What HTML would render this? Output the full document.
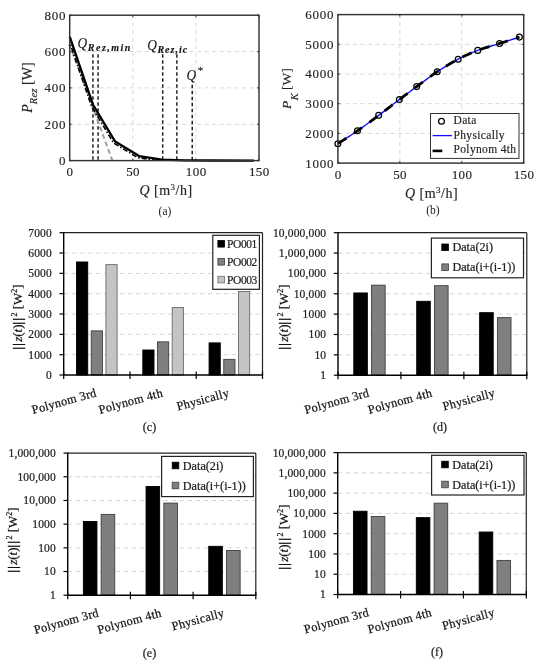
<!DOCTYPE html>
<html><head><meta charset="utf-8"><style>
html,body{margin:0;padding:0;background:#fff;}
svg{display:block;font-family:"Liberation Serif", "DejaVu Serif", serif;}
</style></head><body>
<svg width="550" height="668" viewBox="0 0 550 668">
<defs><clipPath id="clipa"><rect x="69.7" y="15.2" width="189.3" height="145.4"/></clipPath></defs>
<rect width="550" height="668" fill="#fff"/>
<line x1="132.80" y1="15.20" x2="132.80" y2="160.60" stroke="#d8d8d8" stroke-width="1" stroke-dasharray="4,3.5" />
<line x1="195.90" y1="15.20" x2="195.90" y2="160.60" stroke="#d8d8d8" stroke-width="1" stroke-dasharray="4,3.5" />
<line x1="69.70" y1="124.25" x2="259.00" y2="124.25" stroke="#d8d8d8" stroke-width="1" stroke-dasharray="4,3.5" />
<line x1="69.70" y1="87.90" x2="259.00" y2="87.90" stroke="#d8d8d8" stroke-width="1" stroke-dasharray="4,3.5" />
<line x1="69.70" y1="51.55" x2="259.00" y2="51.55" stroke="#d8d8d8" stroke-width="1" stroke-dasharray="4,3.5" />
<line x1="92.92" y1="54.30" x2="92.92" y2="160.60" stroke="#222" stroke-width="1.5" stroke-dasharray="3.5,2.5" />
<line x1="98.09" y1="54.30" x2="98.09" y2="160.60" stroke="#222" stroke-width="1.5" stroke-dasharray="3.5,2.5" />
<line x1="162.71" y1="54.20" x2="162.71" y2="160.60" stroke="#222" stroke-width="1.5" stroke-dasharray="3.5,2.5" />
<line x1="176.84" y1="54.20" x2="176.84" y2="160.60" stroke="#222" stroke-width="1.5" stroke-dasharray="3.5,2.5" />
<line x1="192.24" y1="84.70" x2="192.24" y2="160.60" stroke="#222" stroke-width="1.5" stroke-dasharray="3.5,2.5" />
<polyline points="69.10,44.10 81.72,76.63 92.45,106.44 112.39,160.60" fill="none" stroke="#a0a0a0" stroke-width="2" stroke-dasharray="5,3" stroke-linejoin="round" />
<polyline points="68.20,38.15 91.55,106.30 113.63,143.02 137.61,157.56 160.33,161.19 183.04,161.83 207.02,162.01 252.45,162.10" fill="none" stroke="#000" stroke-width="1.6" stroke-dasharray="5,2,1.5,2" stroke-linejoin="round" clip-path="url(#clipa)"/>
<polyline points="69.70,36.65 93.05,104.80 115.13,141.52 139.11,156.06 161.83,159.69 184.54,160.33 208.52,160.51 253.95,160.60" fill="none" stroke="#000" stroke-width="2.3" stroke-linejoin="round" />
<rect x="69.7" y="15.2" width="189.30" height="145.40" fill="none" stroke="#333" stroke-width="1.45"/>
<line x1="69.70" y1="160.60" x2="69.70" y2="158.60" stroke="#333" stroke-width="1" />
<line x1="69.70" y1="15.20" x2="69.70" y2="17.20" stroke="#333" stroke-width="1" />
<line x1="132.80" y1="160.60" x2="132.80" y2="158.60" stroke="#333" stroke-width="1" />
<line x1="132.80" y1="15.20" x2="132.80" y2="17.20" stroke="#333" stroke-width="1" />
<line x1="195.90" y1="160.60" x2="195.90" y2="158.60" stroke="#333" stroke-width="1" />
<line x1="195.90" y1="15.20" x2="195.90" y2="17.20" stroke="#333" stroke-width="1" />
<line x1="259.00" y1="160.60" x2="259.00" y2="158.60" stroke="#333" stroke-width="1" />
<line x1="259.00" y1="15.20" x2="259.00" y2="17.20" stroke="#333" stroke-width="1" />
<line x1="69.70" y1="160.60" x2="71.70" y2="160.60" stroke="#333" stroke-width="1" />
<line x1="259.00" y1="160.60" x2="257.00" y2="160.60" stroke="#333" stroke-width="1" />
<line x1="69.70" y1="124.25" x2="71.70" y2="124.25" stroke="#333" stroke-width="1" />
<line x1="259.00" y1="124.25" x2="257.00" y2="124.25" stroke="#333" stroke-width="1" />
<line x1="69.70" y1="87.90" x2="71.70" y2="87.90" stroke="#333" stroke-width="1" />
<line x1="259.00" y1="87.90" x2="257.00" y2="87.90" stroke="#333" stroke-width="1" />
<line x1="69.70" y1="51.55" x2="71.70" y2="51.55" stroke="#333" stroke-width="1" />
<line x1="259.00" y1="51.55" x2="257.00" y2="51.55" stroke="#333" stroke-width="1" />
<line x1="69.70" y1="15.20" x2="71.70" y2="15.20" stroke="#333" stroke-width="1" />
<line x1="259.00" y1="15.20" x2="257.00" y2="15.20" stroke="#333" stroke-width="1" />
<text x="66.30" y="165.00" font-size="13" text-anchor="end" fill="#222" stroke="#2a2a2a" stroke-width="0.15" letter-spacing="0.75">0</text>
<text x="66.30" y="128.65" font-size="13" text-anchor="end" fill="#222" stroke="#2a2a2a" stroke-width="0.15" letter-spacing="0.75">200</text>
<text x="66.30" y="92.30" font-size="13" text-anchor="end" fill="#222" stroke="#2a2a2a" stroke-width="0.15" letter-spacing="0.75">400</text>
<text x="66.30" y="55.95" font-size="13" text-anchor="end" fill="#222" stroke="#2a2a2a" stroke-width="0.15" letter-spacing="0.75">600</text>
<text x="66.30" y="19.60" font-size="13" text-anchor="end" fill="#222" stroke="#2a2a2a" stroke-width="0.15" letter-spacing="0.75">800</text>
<text x="70.00" y="175.90" font-size="13" text-anchor="middle" fill="#222" stroke="#2a2a2a" stroke-width="0.15" letter-spacing="0.4">0</text>
<text x="133.10" y="175.90" font-size="13" text-anchor="middle" fill="#222" stroke="#2a2a2a" stroke-width="0.15" letter-spacing="0.4">50</text>
<text x="196.20" y="175.90" font-size="13" text-anchor="middle" fill="#222" stroke="#2a2a2a" stroke-width="0.15" letter-spacing="0.4">100</text>
<text x="259.30" y="175.90" font-size="13" text-anchor="middle" fill="#222" stroke="#2a2a2a" stroke-width="0.15" letter-spacing="0.4">150</text>
<text x="166.00" y="195.40" font-size="14" text-anchor="middle" fill="#222" stroke="#2a2a2a" stroke-width="0.15" letter-spacing="0.5"><tspan font-style="italic">Q</tspan> [m<tspan font-size="9" dy="-5">3</tspan><tspan dy="5">/h]</tspan></text>
<text x="165.00" y="214.50" font-size="11.5" text-anchor="middle" fill="#222" >(a)</text>
<text transform="translate(32,87.5) rotate(-90)" font-size="14" text-anchor="middle" fill="#222" stroke="#2a2a2a" stroke-width="0.15" letter-spacing="0.1"><tspan font-style="italic">P</tspan><tspan font-style="italic" font-size="10.5" dy="5.2">Rez</tspan><tspan dy="-5.2"> [W]</tspan></text>
<text transform="translate(77.6,48.0) scale(0.86,1)" font-size="15.5" fill="#111" font-style="italic" stroke="#2a2a2a" stroke-width="0.15">Q</text>
<text x="87.8" y="51.0" font-size="10" fill="#111" font-style="italic" font-weight="bold" letter-spacing="1.5" stroke="#2a2a2a" stroke-width="0.15">Rez,min</text>
<text transform="translate(147.2,49.6) scale(0.86,1)" font-size="15.5" fill="#111" font-style="italic" stroke="#2a2a2a" stroke-width="0.15">Q</text>
<text x="157.4" y="52.6" font-size="10" fill="#111" font-style="italic" font-weight="bold" letter-spacing="1.0" stroke="#2a2a2a" stroke-width="0.15">Rez,ic</text>
<text transform="translate(186.6,80.2) scale(0.86,1)" font-size="15.5" fill="#111" font-style="italic" stroke="#2a2a2a" stroke-width="0.15">Q</text>
<text x="197.8" y="73.5" font-size="11" fill="#111" stroke="#2a2a2a" stroke-width="0.15">*</text>
<line x1="399.83" y1="14.60" x2="399.83" y2="163.10" stroke="#d8d8d8" stroke-width="1" stroke-dasharray="4,3.5" />
<line x1="461.77" y1="14.60" x2="461.77" y2="163.10" stroke="#d8d8d8" stroke-width="1" stroke-dasharray="4,3.5" />
<line x1="337.90" y1="133.40" x2="523.70" y2="133.40" stroke="#d8d8d8" stroke-width="1" stroke-dasharray="4,3.5" />
<line x1="337.90" y1="103.70" x2="523.70" y2="103.70" stroke="#d8d8d8" stroke-width="1" stroke-dasharray="4,3.5" />
<line x1="337.90" y1="74.00" x2="523.70" y2="74.00" stroke="#d8d8d8" stroke-width="1" stroke-dasharray="4,3.5" />
<line x1="337.90" y1="44.30" x2="523.70" y2="44.30" stroke="#d8d8d8" stroke-width="1" stroke-dasharray="4,3.5" />
<polyline points="337.90,143.65 339.40,142.67 341.38,141.40 343.73,139.88 346.36,138.18 349.15,136.36 352.01,134.48 354.81,132.60 357.47,130.79 360.04,128.98 362.66,127.12 365.32,125.21 367.99,123.26 370.67,121.30 373.35,119.31 376.02,117.34 378.65,115.37 381.28,113.39 383.94,111.38 386.59,109.34 389.23,107.30 391.85,105.28 394.41,103.30 396.92,101.38 399.34,99.54 401.64,97.80 403.83,96.15 405.94,94.57 408.02,93.02 410.09,91.49 412.20,89.92 414.38,88.31 416.68,86.62 419.09,84.84 421.58,82.98 424.14,81.07 426.74,79.14 429.36,77.21 432.00,75.32 434.63,73.47 437.24,71.71 439.85,70.01 442.48,68.34 445.12,66.70 447.77,65.10 450.41,63.54 453.03,62.05 455.62,60.61 458.17,59.24 460.67,57.95 463.11,56.73 465.52,55.57 467.91,54.46 470.30,53.40 472.73,52.38 475.20,51.38 477.75,50.39 480.38,49.43 483.09,48.52 485.84,47.64 488.63,46.79 491.42,45.96 494.18,45.14 496.90,44.32 499.55,43.50 502.25,42.63 505.10,41.72 507.99,40.79 510.82,39.87 513.47,39.02 515.85,38.25 517.85,37.60 519.36,37.11" fill="none" stroke="#1010ff" stroke-width="1.4" stroke-linejoin="round" />
<polyline points="337.90,143.65 339.40,142.67 341.38,141.40 343.73,139.88 346.36,138.18 349.15,136.36 352.01,134.48 354.81,132.60 357.47,130.79 360.04,128.98 362.66,127.12 365.32,125.21 367.99,123.26 370.67,121.30 373.35,119.31 376.02,117.34 378.65,115.37 381.28,113.39 383.94,111.38 386.59,109.34 389.23,107.30 391.85,105.28 394.41,103.30 396.92,101.38 399.34,99.54 401.64,97.80 403.83,96.15 405.94,94.57 408.02,93.02 410.09,91.49 412.20,89.92 414.38,88.31 416.68,86.62 419.09,84.84 421.58,82.98 424.14,81.07 426.74,79.14 429.36,77.21 432.00,75.32 434.63,73.47 437.24,71.71 439.85,70.01 442.48,68.34 445.12,66.70 447.77,65.10 450.41,63.54 453.03,62.05 455.62,60.61 458.17,59.24 460.67,57.95 463.11,56.73 465.52,55.57 467.91,54.46 470.30,53.40 472.73,52.38 475.20,51.38 477.75,50.39 480.38,49.43 483.09,48.52 485.84,47.64 488.63,46.79 491.42,45.96 494.18,45.14 496.90,44.32 499.55,43.50 502.25,42.63 505.10,41.72 507.99,40.79 510.82,39.87 513.47,39.02 515.85,38.25 517.85,37.60 519.36,37.11" fill="none" stroke="#000" stroke-width="2.8" stroke-dasharray="10,9" stroke-linejoin="round" />
<circle cx="337.90" cy="143.65" r="2.9" fill="none" stroke="#000" stroke-width="1.25"/>
<circle cx="357.47" cy="130.79" r="2.9" fill="none" stroke="#000" stroke-width="1.25"/>
<circle cx="378.65" cy="115.37" r="2.9" fill="none" stroke="#000" stroke-width="1.25"/>
<circle cx="399.34" cy="99.54" r="2.9" fill="none" stroke="#000" stroke-width="1.25"/>
<circle cx="416.68" cy="86.62" r="2.9" fill="none" stroke="#000" stroke-width="1.25"/>
<circle cx="437.24" cy="71.71" r="2.9" fill="none" stroke="#000" stroke-width="1.25"/>
<circle cx="458.17" cy="59.24" r="2.9" fill="none" stroke="#000" stroke-width="1.25"/>
<circle cx="477.75" cy="50.39" r="2.9" fill="none" stroke="#000" stroke-width="1.25"/>
<circle cx="499.55" cy="43.50" r="2.9" fill="none" stroke="#000" stroke-width="1.25"/>
<circle cx="519.36" cy="37.11" r="2.9" fill="none" stroke="#000" stroke-width="1.25"/>
<rect x="337.9" y="14.6" width="185.80" height="148.50" fill="none" stroke="#333" stroke-width="1.45"/>
<line x1="337.90" y1="163.10" x2="337.90" y2="161.10" stroke="#333" stroke-width="1" />
<line x1="337.90" y1="14.60" x2="337.90" y2="16.60" stroke="#333" stroke-width="1" />
<line x1="399.83" y1="163.10" x2="399.83" y2="161.10" stroke="#333" stroke-width="1" />
<line x1="399.83" y1="14.60" x2="399.83" y2="16.60" stroke="#333" stroke-width="1" />
<line x1="461.77" y1="163.10" x2="461.77" y2="161.10" stroke="#333" stroke-width="1" />
<line x1="461.77" y1="14.60" x2="461.77" y2="16.60" stroke="#333" stroke-width="1" />
<line x1="523.70" y1="163.10" x2="523.70" y2="161.10" stroke="#333" stroke-width="1" />
<line x1="523.70" y1="14.60" x2="523.70" y2="16.60" stroke="#333" stroke-width="1" />
<line x1="337.90" y1="163.10" x2="339.90" y2="163.10" stroke="#333" stroke-width="1" />
<line x1="523.70" y1="163.10" x2="521.70" y2="163.10" stroke="#333" stroke-width="1" />
<line x1="337.90" y1="133.40" x2="339.90" y2="133.40" stroke="#333" stroke-width="1" />
<line x1="523.70" y1="133.40" x2="521.70" y2="133.40" stroke="#333" stroke-width="1" />
<line x1="337.90" y1="103.70" x2="339.90" y2="103.70" stroke="#333" stroke-width="1" />
<line x1="523.70" y1="103.70" x2="521.70" y2="103.70" stroke="#333" stroke-width="1" />
<line x1="337.90" y1="74.00" x2="339.90" y2="74.00" stroke="#333" stroke-width="1" />
<line x1="523.70" y1="74.00" x2="521.70" y2="74.00" stroke="#333" stroke-width="1" />
<line x1="337.90" y1="44.30" x2="339.90" y2="44.30" stroke="#333" stroke-width="1" />
<line x1="523.70" y1="44.30" x2="521.70" y2="44.30" stroke="#333" stroke-width="1" />
<line x1="337.90" y1="14.60" x2="339.90" y2="14.60" stroke="#333" stroke-width="1" />
<line x1="523.70" y1="14.60" x2="521.70" y2="14.60" stroke="#333" stroke-width="1" />
<text x="334.30" y="167.50" font-size="13" text-anchor="end" fill="#222" stroke="#2a2a2a" stroke-width="0.15" letter-spacing="0.75">1000</text>
<text x="334.30" y="137.80" font-size="13" text-anchor="end" fill="#222" stroke="#2a2a2a" stroke-width="0.15" letter-spacing="0.75">2000</text>
<text x="334.30" y="108.10" font-size="13" text-anchor="end" fill="#222" stroke="#2a2a2a" stroke-width="0.15" letter-spacing="0.75">3000</text>
<text x="334.30" y="78.40" font-size="13" text-anchor="end" fill="#222" stroke="#2a2a2a" stroke-width="0.15" letter-spacing="0.75">4000</text>
<text x="334.30" y="48.70" font-size="13" text-anchor="end" fill="#222" stroke="#2a2a2a" stroke-width="0.15" letter-spacing="0.75">5000</text>
<text x="334.30" y="19.00" font-size="13" text-anchor="end" fill="#222" stroke="#2a2a2a" stroke-width="0.15" letter-spacing="0.75">6000</text>
<text x="338.20" y="179.40" font-size="13" text-anchor="middle" fill="#222" stroke="#2a2a2a" stroke-width="0.15" letter-spacing="0.4">0</text>
<text x="400.13" y="179.40" font-size="13" text-anchor="middle" fill="#222" stroke="#2a2a2a" stroke-width="0.15" letter-spacing="0.4">50</text>
<text x="462.07" y="179.40" font-size="13" text-anchor="middle" fill="#222" stroke="#2a2a2a" stroke-width="0.15" letter-spacing="0.4">100</text>
<text x="524.00" y="179.40" font-size="13" text-anchor="middle" fill="#222" stroke="#2a2a2a" stroke-width="0.15" letter-spacing="0.4">150</text>
<text x="431.50" y="198.20" font-size="14" text-anchor="middle" fill="#222" stroke="#2a2a2a" stroke-width="0.15" letter-spacing="0.5"><tspan font-style="italic">Q</tspan> [m<tspan font-size="9" dy="-5">3</tspan><tspan dy="5">/h]</tspan></text>
<text x="433.00" y="213.60" font-size="11.5" text-anchor="middle" fill="#222" >(b)</text>
<text transform="translate(291.2,88.6) rotate(-90)" font-size="13.5" text-anchor="middle" fill="#222" stroke="#2a2a2a" stroke-width="0.15" letter-spacing="0"><tspan font-style="italic">P</tspan><tspan font-style="italic" font-size="10.5" dy="6.5" dx="0.5">K</tspan><tspan dy="-6.5"> [W]</tspan></text>
<rect x="430.50" y="113.50" width="88.50" height="44.90" fill="#fff" stroke="#333" stroke-width="1"/>
<circle cx="441.5" cy="121.3" r="2.9" fill="none" stroke="#000" stroke-width="1.25"/>
<line x1="432.60" y1="135.60" x2="451.90" y2="135.60" stroke="#1010ff" stroke-width="1.3" />
<line x1="432.60" y1="150.90" x2="442.30" y2="150.90" stroke="#000" stroke-width="2.6" />
<text x="453.50" y="124.00" font-size="11.5" text-anchor="start" fill="#222" stroke="#2a2a2a" stroke-width="0.15" letter-spacing="0.35">Data</text>
<text x="453.50" y="138.60" font-size="11.5" text-anchor="start" fill="#222" stroke="#2a2a2a" stroke-width="0.15" letter-spacing="0.35">Physically</text>
<text x="453.50" y="153.20" font-size="11.5" text-anchor="start" fill="#222" stroke="#2a2a2a" stroke-width="0.15" letter-spacing="0.35">Polynom 4th</text>
<line x1="63.70" y1="354.67" x2="262.50" y2="354.67" stroke="#d6d6d6" stroke-width="1" stroke-dasharray="4.5,3.5" />
<line x1="63.70" y1="334.34" x2="262.50" y2="334.34" stroke="#d6d6d6" stroke-width="1" stroke-dasharray="4.5,3.5" />
<line x1="63.70" y1="314.01" x2="262.50" y2="314.01" stroke="#d6d6d6" stroke-width="1" stroke-dasharray="4.5,3.5" />
<line x1="63.70" y1="293.69" x2="262.50" y2="293.69" stroke="#d6d6d6" stroke-width="1" stroke-dasharray="4.5,3.5" />
<line x1="63.70" y1="273.36" x2="262.50" y2="273.36" stroke="#d6d6d6" stroke-width="1" stroke-dasharray="4.5,3.5" />
<line x1="63.70" y1="253.03" x2="262.50" y2="253.03" stroke="#d6d6d6" stroke-width="1" stroke-dasharray="4.5,3.5" />
<rect x="76.53" y="261.97" width="11.20" height="113.03" fill="#000" stroke="#000" stroke-width="0.9"/>
<rect x="91.23" y="330.89" width="11.20" height="44.11" fill="#7f7f7f" stroke="#3f3f3f" stroke-width="0.9"/>
<rect x="105.93" y="264.62" width="11.20" height="110.38" fill="#c4c4c4" stroke="#6a6a6a" stroke-width="0.9"/>
<rect x="142.80" y="350.00" width="11.20" height="25.00" fill="#000" stroke="#000" stroke-width="0.9"/>
<rect x="157.50" y="341.86" width="11.20" height="33.14" fill="#7f7f7f" stroke="#3f3f3f" stroke-width="0.9"/>
<rect x="172.20" y="307.51" width="11.20" height="67.49" fill="#c4c4c4" stroke="#6a6a6a" stroke-width="0.9"/>
<rect x="209.07" y="342.88" width="11.20" height="32.12" fill="#000" stroke="#000" stroke-width="0.9"/>
<rect x="223.77" y="359.35" width="11.20" height="15.65" fill="#7f7f7f" stroke="#3f3f3f" stroke-width="0.9"/>
<rect x="238.47" y="291.45" width="11.20" height="83.55" fill="#c4c4c4" stroke="#6a6a6a" stroke-width="0.9"/>
<line x1="63.70" y1="232.70" x2="262.50" y2="232.70" stroke="#222" stroke-width="1.2" />
<line x1="262.50" y1="232.70" x2="262.50" y2="375.00" stroke="#222" stroke-width="1.2" />
<line x1="63.70" y1="232.10" x2="63.70" y2="375.60" stroke="#000" stroke-width="1.4" />
<line x1="63.10" y1="375.00" x2="263.10" y2="375.00" stroke="#000" stroke-width="1.4" />
<line x1="59.50" y1="375.00" x2="63.70" y2="375.00" stroke="#000" stroke-width="1.2" />
<text x="51.90" y="378.90" font-size="11.5" text-anchor="end" fill="#222" fill="#111" stroke="#111" stroke-width="0.2" letter-spacing="0.15">0</text>
<line x1="59.50" y1="354.67" x2="63.70" y2="354.67" stroke="#000" stroke-width="1.2" />
<text x="51.90" y="358.57" font-size="11.5" text-anchor="end" fill="#222" fill="#111" stroke="#111" stroke-width="0.2" letter-spacing="0.15">1000</text>
<line x1="59.50" y1="334.34" x2="63.70" y2="334.34" stroke="#000" stroke-width="1.2" />
<text x="51.90" y="338.24" font-size="11.5" text-anchor="end" fill="#222" fill="#111" stroke="#111" stroke-width="0.2" letter-spacing="0.15">2000</text>
<line x1="59.50" y1="314.01" x2="63.70" y2="314.01" stroke="#000" stroke-width="1.2" />
<text x="51.90" y="317.91" font-size="11.5" text-anchor="end" fill="#222" fill="#111" stroke="#111" stroke-width="0.2" letter-spacing="0.15">3000</text>
<line x1="59.50" y1="293.69" x2="63.70" y2="293.69" stroke="#000" stroke-width="1.2" />
<text x="51.90" y="297.59" font-size="11.5" text-anchor="end" fill="#222" fill="#111" stroke="#111" stroke-width="0.2" letter-spacing="0.15">4000</text>
<line x1="59.50" y1="273.36" x2="63.70" y2="273.36" stroke="#000" stroke-width="1.2" />
<text x="51.90" y="277.26" font-size="11.5" text-anchor="end" fill="#222" fill="#111" stroke="#111" stroke-width="0.2" letter-spacing="0.15">5000</text>
<line x1="59.50" y1="253.03" x2="63.70" y2="253.03" stroke="#000" stroke-width="1.2" />
<text x="51.90" y="256.93" font-size="11.5" text-anchor="end" fill="#222" fill="#111" stroke="#111" stroke-width="0.2" letter-spacing="0.15">6000</text>
<line x1="59.50" y1="232.70" x2="63.70" y2="232.70" stroke="#000" stroke-width="1.2" />
<text x="51.90" y="236.60" font-size="11.5" text-anchor="end" fill="#222" fill="#111" stroke="#111" stroke-width="0.2" letter-spacing="0.15">7000</text>
<line x1="63.70" y1="371.50" x2="63.70" y2="379.00" stroke="#000" stroke-width="1.2" />
<line x1="129.97" y1="371.50" x2="129.97" y2="379.00" stroke="#000" stroke-width="1.2" />
<line x1="196.23" y1="371.50" x2="196.23" y2="379.00" stroke="#000" stroke-width="1.2" />
<line x1="262.50" y1="371.50" x2="262.50" y2="379.00" stroke="#000" stroke-width="1.2" />
<text transform="translate(97.63,397.50) rotate(-15.5)" font-size="12.3" dy="-1.3" text-anchor="end" fill="#111" stroke="#111" stroke-width="0.2" letter-spacing="0.25">Polynom 3rd</text>
<text transform="translate(163.90,397.50) rotate(-15.5)" font-size="12.3" dy="-1.3" text-anchor="end" fill="#111" stroke="#111" stroke-width="0.2" letter-spacing="0.25">Polynom 4th</text>
<text transform="translate(230.17,397.50) rotate(-15.5)" font-size="12.3" dy="-1.3" text-anchor="end" fill="#111" stroke="#111" stroke-width="0.2" letter-spacing="0.25">Physically</text>
<rect x="212.80" y="235.30" width="46.60" height="54.00" fill="#fff" stroke="#222" stroke-width="1.2"/>
<rect x="217.90" y="240.50" width="6.60" height="6.60" fill="#000" stroke="#000" stroke-width="0.8"/>
<text x="227.00" y="247.80" font-size="11.5" text-anchor="start" fill="#222" fill="#111" stroke="#111" stroke-width="0.2" letter-spacing="-0.4">PO001</text>
<rect x="217.90" y="258.50" width="6.60" height="6.60" fill="#7f7f7f" stroke="#3f3f3f" stroke-width="0.8"/>
<text x="227.00" y="265.80" font-size="11.5" text-anchor="start" fill="#222" fill="#111" stroke="#111" stroke-width="0.2" letter-spacing="-0.4">PO002</text>
<rect x="217.90" y="276.30" width="6.60" height="6.60" fill="#c4c4c4" stroke="#6a6a6a" stroke-width="0.8"/>
<text x="227.00" y="283.60" font-size="11.5" text-anchor="start" fill="#222" fill="#111" stroke="#111" stroke-width="0.2" letter-spacing="-0.4">PO003</text>
<text transform="translate(22.00,317.00) rotate(-90)" font-size="13" text-anchor="middle" fill="#111" stroke="#111" stroke-width="0.2" letter-spacing="0"><tspan letter-spacing="1.3" stroke-width="0.5">||</tspan><tspan font-style="italic">z</tspan>(<tspan font-style="italic">t</tspan>)<tspan letter-spacing="1.3" stroke-width="0.5">||</tspan><tspan font-size="8" dy="-5">2</tspan><tspan dy="5"> [W</tspan><tspan font-size="8" dy="-5">2</tspan><tspan dy="5">]</tspan></text>
<text x="149.50" y="430.80" font-size="12" text-anchor="middle" fill="#222" fill="#111" stroke="#111" stroke-width="0.2">(c)</text>
<line x1="338.00" y1="354.84" x2="526.80" y2="354.84" stroke="#d6d6d6" stroke-width="1" stroke-dasharray="4.5,3.5" />
<line x1="338.00" y1="334.49" x2="526.80" y2="334.49" stroke="#d6d6d6" stroke-width="1" stroke-dasharray="4.5,3.5" />
<line x1="338.00" y1="314.13" x2="526.80" y2="314.13" stroke="#d6d6d6" stroke-width="1" stroke-dasharray="4.5,3.5" />
<line x1="338.00" y1="293.77" x2="526.80" y2="293.77" stroke="#d6d6d6" stroke-width="1" stroke-dasharray="4.5,3.5" />
<line x1="338.00" y1="273.41" x2="526.80" y2="273.41" stroke="#d6d6d6" stroke-width="1" stroke-dasharray="4.5,3.5" />
<line x1="338.00" y1="253.06" x2="526.80" y2="253.06" stroke="#d6d6d6" stroke-width="1" stroke-dasharray="4.5,3.5" />
<rect x="353.77" y="292.95" width="13.60" height="82.25" fill="#000" stroke="#000" stroke-width="0.9"/>
<rect x="371.57" y="285.16" width="13.60" height="90.04" fill="#7f7f7f" stroke="#3f3f3f" stroke-width="0.9"/>
<rect x="416.70" y="301.29" width="13.60" height="73.91" fill="#000" stroke="#000" stroke-width="0.9"/>
<rect x="434.50" y="285.67" width="13.60" height="89.53" fill="#7f7f7f" stroke="#3f3f3f" stroke-width="0.9"/>
<rect x="479.63" y="312.67" width="13.60" height="62.53" fill="#000" stroke="#000" stroke-width="0.9"/>
<rect x="497.43" y="317.59" width="13.60" height="57.61" fill="#7f7f7f" stroke="#3f3f3f" stroke-width="0.9"/>
<line x1="338.00" y1="232.70" x2="526.80" y2="232.70" stroke="#222" stroke-width="1.2" />
<line x1="526.80" y1="232.70" x2="526.80" y2="375.20" stroke="#222" stroke-width="1.2" />
<line x1="338.00" y1="232.10" x2="338.00" y2="375.80" stroke="#000" stroke-width="1.4" />
<line x1="337.40" y1="375.20" x2="527.40" y2="375.20" stroke="#000" stroke-width="1.4" />
<line x1="333.80" y1="375.20" x2="338.00" y2="375.20" stroke="#000" stroke-width="1.2" />
<text x="326.20" y="379.10" font-size="11.5" text-anchor="end" fill="#222" fill="#111" stroke="#111" stroke-width="0.2" letter-spacing="0.15">1</text>
<line x1="333.80" y1="354.84" x2="338.00" y2="354.84" stroke="#000" stroke-width="1.2" />
<text x="326.20" y="358.74" font-size="11.5" text-anchor="end" fill="#222" fill="#111" stroke="#111" stroke-width="0.2" letter-spacing="0.15">10</text>
<line x1="333.80" y1="334.49" x2="338.00" y2="334.49" stroke="#000" stroke-width="1.2" />
<text x="326.20" y="338.39" font-size="11.5" text-anchor="end" fill="#222" fill="#111" stroke="#111" stroke-width="0.2" letter-spacing="0.15">100</text>
<line x1="333.80" y1="314.13" x2="338.00" y2="314.13" stroke="#000" stroke-width="1.2" />
<text x="326.20" y="318.03" font-size="11.5" text-anchor="end" fill="#222" fill="#111" stroke="#111" stroke-width="0.2" letter-spacing="0.15">1000</text>
<line x1="333.80" y1="293.77" x2="338.00" y2="293.77" stroke="#000" stroke-width="1.2" />
<text x="326.20" y="297.67" font-size="11.5" text-anchor="end" fill="#222" fill="#111" stroke="#111" stroke-width="0.2" letter-spacing="0.15">10,000</text>
<line x1="333.80" y1="273.41" x2="338.00" y2="273.41" stroke="#000" stroke-width="1.2" />
<text x="326.20" y="277.31" font-size="11.5" text-anchor="end" fill="#222" fill="#111" stroke="#111" stroke-width="0.2" letter-spacing="0.15">100,000</text>
<line x1="333.80" y1="253.06" x2="338.00" y2="253.06" stroke="#000" stroke-width="1.2" />
<text x="326.20" y="256.96" font-size="11.5" text-anchor="end" fill="#222" fill="#111" stroke="#111" stroke-width="0.2" letter-spacing="0.15">1,000,000</text>
<line x1="333.80" y1="232.70" x2="338.00" y2="232.70" stroke="#000" stroke-width="1.2" />
<text x="326.20" y="236.60" font-size="11.5" text-anchor="end" fill="#222" fill="#111" stroke="#111" stroke-width="0.2" letter-spacing="0.15">10,000,000</text>
<line x1="338.00" y1="371.70" x2="338.00" y2="379.20" stroke="#000" stroke-width="1.2" />
<line x1="400.93" y1="371.70" x2="400.93" y2="379.20" stroke="#000" stroke-width="1.2" />
<line x1="463.87" y1="371.70" x2="463.87" y2="379.20" stroke="#000" stroke-width="1.2" />
<line x1="526.80" y1="371.70" x2="526.80" y2="379.20" stroke="#000" stroke-width="1.2" />
<text transform="translate(370.27,397.50) rotate(-15.5)" font-size="12.3" dy="-1.3" text-anchor="end" fill="#111" stroke="#111" stroke-width="0.2" letter-spacing="0.25">Polynom 3rd</text>
<text transform="translate(433.20,397.50) rotate(-15.5)" font-size="12.3" dy="-1.3" text-anchor="end" fill="#111" stroke="#111" stroke-width="0.2" letter-spacing="0.25">Polynom 4th</text>
<text transform="translate(496.13,397.50) rotate(-15.5)" font-size="12.3" dy="-1.3" text-anchor="end" fill="#111" stroke="#111" stroke-width="0.2" letter-spacing="0.25">Physically</text>
<rect x="431.40" y="238.10" width="92.10" height="39.70" fill="#fff" stroke="#222" stroke-width="1.2"/>
<rect x="441.80" y="244.00" width="6.60" height="6.60" fill="#000" stroke="#000" stroke-width="0.8"/>
<text x="452.40" y="251.30" font-size="12.2" text-anchor="start" fill="#222" fill="#111" stroke="#111" stroke-width="0.2" letter-spacing="0">Data(2i)</text>
<rect x="441.80" y="263.90" width="6.60" height="6.60" fill="#7f7f7f" stroke="#3f3f3f" stroke-width="0.8"/>
<text x="452.40" y="271.20" font-size="12.2" text-anchor="start" fill="#222" fill="#111" stroke="#111" stroke-width="0.2" letter-spacing="0">Data(i+(i-1))</text>
<text transform="translate(288.00,317.00) rotate(-90)" font-size="13" text-anchor="middle" fill="#111" stroke="#111" stroke-width="0.2" letter-spacing="0"><tspan letter-spacing="1.3" stroke-width="0.5">||</tspan><tspan font-style="italic">z</tspan>(<tspan font-style="italic">t</tspan>)<tspan letter-spacing="1.3" stroke-width="0.5">||</tspan><tspan font-size="8" dy="-5">2</tspan><tspan dy="5"> [W</tspan><tspan font-size="8" dy="-5">2</tspan><tspan dy="5">]</tspan></text>
<text x="440.00" y="430.50" font-size="12" text-anchor="middle" fill="#222" fill="#111" stroke="#111" stroke-width="0.2">(d)</text>
<line x1="67.70" y1="571.52" x2="255.80" y2="571.52" stroke="#d6d6d6" stroke-width="1" stroke-dasharray="4.5,3.5" />
<line x1="67.70" y1="547.83" x2="255.80" y2="547.83" stroke="#d6d6d6" stroke-width="1" stroke-dasharray="4.5,3.5" />
<line x1="67.70" y1="524.15" x2="255.80" y2="524.15" stroke="#d6d6d6" stroke-width="1" stroke-dasharray="4.5,3.5" />
<line x1="67.70" y1="500.47" x2="255.80" y2="500.47" stroke="#d6d6d6" stroke-width="1" stroke-dasharray="4.5,3.5" />
<line x1="67.70" y1="476.78" x2="255.80" y2="476.78" stroke="#d6d6d6" stroke-width="1" stroke-dasharray="4.5,3.5" />
<rect x="83.35" y="521.45" width="13.60" height="73.75" fill="#000" stroke="#000" stroke-width="0.9"/>
<rect x="101.15" y="514.40" width="13.60" height="80.80" fill="#7f7f7f" stroke="#3f3f3f" stroke-width="0.9"/>
<rect x="146.05" y="486.47" width="13.60" height="108.73" fill="#000" stroke="#000" stroke-width="0.9"/>
<rect x="163.85" y="503.06" width="13.60" height="92.14" fill="#7f7f7f" stroke="#3f3f3f" stroke-width="0.9"/>
<rect x="208.75" y="546.31" width="13.60" height="48.89" fill="#000" stroke="#000" stroke-width="0.9"/>
<rect x="226.55" y="550.52" width="13.60" height="44.68" fill="#7f7f7f" stroke="#3f3f3f" stroke-width="0.9"/>
<line x1="67.70" y1="453.10" x2="255.80" y2="453.10" stroke="#222" stroke-width="1.2" />
<line x1="255.80" y1="453.10" x2="255.80" y2="595.20" stroke="#222" stroke-width="1.2" />
<line x1="67.70" y1="452.50" x2="67.70" y2="595.80" stroke="#000" stroke-width="1.4" />
<line x1="67.10" y1="595.20" x2="256.40" y2="595.20" stroke="#000" stroke-width="1.4" />
<line x1="63.50" y1="595.20" x2="67.70" y2="595.20" stroke="#000" stroke-width="1.2" />
<text x="55.90" y="599.10" font-size="11.5" text-anchor="end" fill="#222" fill="#111" stroke="#111" stroke-width="0.2" letter-spacing="0.15">1</text>
<line x1="63.50" y1="571.52" x2="67.70" y2="571.52" stroke="#000" stroke-width="1.2" />
<text x="55.90" y="575.42" font-size="11.5" text-anchor="end" fill="#222" fill="#111" stroke="#111" stroke-width="0.2" letter-spacing="0.15">10</text>
<line x1="63.50" y1="547.83" x2="67.70" y2="547.83" stroke="#000" stroke-width="1.2" />
<text x="55.90" y="551.73" font-size="11.5" text-anchor="end" fill="#222" fill="#111" stroke="#111" stroke-width="0.2" letter-spacing="0.15">100</text>
<line x1="63.50" y1="524.15" x2="67.70" y2="524.15" stroke="#000" stroke-width="1.2" />
<text x="55.90" y="528.05" font-size="11.5" text-anchor="end" fill="#222" fill="#111" stroke="#111" stroke-width="0.2" letter-spacing="0.15">1000</text>
<line x1="63.50" y1="500.47" x2="67.70" y2="500.47" stroke="#000" stroke-width="1.2" />
<text x="55.90" y="504.37" font-size="11.5" text-anchor="end" fill="#222" fill="#111" stroke="#111" stroke-width="0.2" letter-spacing="0.15">10,000</text>
<line x1="63.50" y1="476.78" x2="67.70" y2="476.78" stroke="#000" stroke-width="1.2" />
<text x="55.90" y="480.68" font-size="11.5" text-anchor="end" fill="#222" fill="#111" stroke="#111" stroke-width="0.2" letter-spacing="0.15">100,000</text>
<line x1="63.50" y1="453.10" x2="67.70" y2="453.10" stroke="#000" stroke-width="1.2" />
<text x="55.90" y="457.00" font-size="11.5" text-anchor="end" fill="#222" fill="#111" stroke="#111" stroke-width="0.2" letter-spacing="0.15">1,000,000</text>
<line x1="67.70" y1="591.70" x2="67.70" y2="599.20" stroke="#000" stroke-width="1.2" />
<line x1="130.40" y1="591.70" x2="130.40" y2="599.20" stroke="#000" stroke-width="1.2" />
<line x1="193.10" y1="591.70" x2="193.10" y2="599.20" stroke="#000" stroke-width="1.2" />
<line x1="255.80" y1="591.70" x2="255.80" y2="599.20" stroke="#000" stroke-width="1.2" />
<text transform="translate(99.85,617.50) rotate(-15.5)" font-size="12.3" dy="-1.3" text-anchor="end" fill="#111" stroke="#111" stroke-width="0.2" letter-spacing="0.25">Polynom 3rd</text>
<text transform="translate(162.55,617.50) rotate(-15.5)" font-size="12.3" dy="-1.3" text-anchor="end" fill="#111" stroke="#111" stroke-width="0.2" letter-spacing="0.25">Polynom 4th</text>
<text transform="translate(225.25,617.50) rotate(-15.5)" font-size="12.3" dy="-1.3" text-anchor="end" fill="#111" stroke="#111" stroke-width="0.2" letter-spacing="0.25">Physically</text>
<rect x="161.60" y="456.40" width="91.80" height="40.20" fill="#fff" stroke="#222" stroke-width="1.2"/>
<rect x="172.20" y="462.20" width="6.60" height="6.60" fill="#000" stroke="#000" stroke-width="0.8"/>
<text x="182.80" y="469.50" font-size="12.2" text-anchor="start" fill="#222" fill="#111" stroke="#111" stroke-width="0.2" letter-spacing="0">Data(2i)</text>
<rect x="172.20" y="482.20" width="6.60" height="6.60" fill="#7f7f7f" stroke="#3f3f3f" stroke-width="0.8"/>
<text x="182.80" y="489.50" font-size="12.2" text-anchor="start" fill="#222" fill="#111" stroke="#111" stroke-width="0.2" letter-spacing="0">Data(i+(i-1))</text>
<text transform="translate(16.50,540.00) rotate(-90)" font-size="13" text-anchor="middle" fill="#111" stroke="#111" stroke-width="0.2" letter-spacing="0"><tspan letter-spacing="1.3" stroke-width="0.5">||</tspan><tspan font-style="italic">z</tspan>(<tspan font-style="italic">t</tspan>)<tspan letter-spacing="1.3" stroke-width="0.5">||</tspan><tspan font-size="8" dy="-5">2</tspan><tspan dy="5"> [W</tspan><tspan font-size="8" dy="-5">2</tspan><tspan dy="5">]</tspan></text>
<text x="149.50" y="656.50" font-size="12" text-anchor="middle" fill="#222" fill="#111" stroke="#111" stroke-width="0.2">(e)</text>
<line x1="337.70" y1="574.23" x2="526.30" y2="574.23" stroke="#d6d6d6" stroke-width="1" stroke-dasharray="4.5,3.5" />
<line x1="337.70" y1="553.96" x2="526.30" y2="553.96" stroke="#d6d6d6" stroke-width="1" stroke-dasharray="4.5,3.5" />
<line x1="337.70" y1="533.69" x2="526.30" y2="533.69" stroke="#d6d6d6" stroke-width="1" stroke-dasharray="4.5,3.5" />
<line x1="337.70" y1="513.41" x2="526.30" y2="513.41" stroke="#d6d6d6" stroke-width="1" stroke-dasharray="4.5,3.5" />
<line x1="337.70" y1="493.14" x2="526.30" y2="493.14" stroke="#d6d6d6" stroke-width="1" stroke-dasharray="4.5,3.5" />
<line x1="337.70" y1="472.87" x2="526.30" y2="472.87" stroke="#d6d6d6" stroke-width="1" stroke-dasharray="4.5,3.5" />
<rect x="353.43" y="511.24" width="13.60" height="83.26" fill="#000" stroke="#000" stroke-width="0.9"/>
<rect x="371.23" y="516.55" width="13.60" height="77.95" fill="#7f7f7f" stroke="#3f3f3f" stroke-width="0.9"/>
<rect x="416.30" y="517.62" width="13.60" height="76.88" fill="#000" stroke="#000" stroke-width="0.9"/>
<rect x="434.10" y="503.17" width="13.60" height="91.33" fill="#7f7f7f" stroke="#3f3f3f" stroke-width="0.9"/>
<rect x="479.17" y="532.01" width="13.60" height="62.49" fill="#000" stroke="#000" stroke-width="0.9"/>
<rect x="496.97" y="560.42" width="13.60" height="34.08" fill="#7f7f7f" stroke="#3f3f3f" stroke-width="0.9"/>
<line x1="337.70" y1="452.60" x2="526.30" y2="452.60" stroke="#222" stroke-width="1.2" />
<line x1="526.30" y1="452.60" x2="526.30" y2="594.50" stroke="#222" stroke-width="1.2" />
<line x1="337.70" y1="452.00" x2="337.70" y2="595.10" stroke="#000" stroke-width="1.4" />
<line x1="337.10" y1="594.50" x2="526.90" y2="594.50" stroke="#000" stroke-width="1.4" />
<line x1="333.50" y1="594.50" x2="337.70" y2="594.50" stroke="#000" stroke-width="1.2" />
<text x="325.90" y="598.40" font-size="11.5" text-anchor="end" fill="#222" fill="#111" stroke="#111" stroke-width="0.2" letter-spacing="0.15">1</text>
<line x1="333.50" y1="574.23" x2="337.70" y2="574.23" stroke="#000" stroke-width="1.2" />
<text x="325.90" y="578.13" font-size="11.5" text-anchor="end" fill="#222" fill="#111" stroke="#111" stroke-width="0.2" letter-spacing="0.15">10</text>
<line x1="333.50" y1="553.96" x2="337.70" y2="553.96" stroke="#000" stroke-width="1.2" />
<text x="325.90" y="557.86" font-size="11.5" text-anchor="end" fill="#222" fill="#111" stroke="#111" stroke-width="0.2" letter-spacing="0.15">100</text>
<line x1="333.50" y1="533.69" x2="337.70" y2="533.69" stroke="#000" stroke-width="1.2" />
<text x="325.90" y="537.59" font-size="11.5" text-anchor="end" fill="#222" fill="#111" stroke="#111" stroke-width="0.2" letter-spacing="0.15">1000</text>
<line x1="333.50" y1="513.41" x2="337.70" y2="513.41" stroke="#000" stroke-width="1.2" />
<text x="325.90" y="517.31" font-size="11.5" text-anchor="end" fill="#222" fill="#111" stroke="#111" stroke-width="0.2" letter-spacing="0.15">10,000</text>
<line x1="333.50" y1="493.14" x2="337.70" y2="493.14" stroke="#000" stroke-width="1.2" />
<text x="325.90" y="497.04" font-size="11.5" text-anchor="end" fill="#222" fill="#111" stroke="#111" stroke-width="0.2" letter-spacing="0.15">100,000</text>
<line x1="333.50" y1="472.87" x2="337.70" y2="472.87" stroke="#000" stroke-width="1.2" />
<text x="325.90" y="476.77" font-size="11.5" text-anchor="end" fill="#222" fill="#111" stroke="#111" stroke-width="0.2" letter-spacing="0.15">1,000,000</text>
<line x1="333.50" y1="452.60" x2="337.70" y2="452.60" stroke="#000" stroke-width="1.2" />
<text x="325.90" y="456.50" font-size="11.5" text-anchor="end" fill="#222" fill="#111" stroke="#111" stroke-width="0.2" letter-spacing="0.15">10,000,000</text>
<line x1="337.70" y1="591.00" x2="337.70" y2="598.50" stroke="#000" stroke-width="1.2" />
<line x1="400.57" y1="591.00" x2="400.57" y2="598.50" stroke="#000" stroke-width="1.2" />
<line x1="463.43" y1="591.00" x2="463.43" y2="598.50" stroke="#000" stroke-width="1.2" />
<line x1="526.30" y1="591.00" x2="526.30" y2="598.50" stroke="#000" stroke-width="1.2" />
<text transform="translate(369.93,617.00) rotate(-15.5)" font-size="12.3" dy="-1.3" text-anchor="end" fill="#111" stroke="#111" stroke-width="0.2" letter-spacing="0.25">Polynom 3rd</text>
<text transform="translate(432.80,617.00) rotate(-15.5)" font-size="12.3" dy="-1.3" text-anchor="end" fill="#111" stroke="#111" stroke-width="0.2" letter-spacing="0.25">Polynom 4th</text>
<text transform="translate(495.67,617.00) rotate(-15.5)" font-size="12.3" dy="-1.3" text-anchor="end" fill="#111" stroke="#111" stroke-width="0.2" letter-spacing="0.25">Physically</text>
<rect x="431.60" y="455.30" width="92.40" height="39.70" fill="#fff" stroke="#222" stroke-width="1.2"/>
<rect x="441.70" y="461.20" width="6.60" height="6.60" fill="#000" stroke="#000" stroke-width="0.8"/>
<text x="452.30" y="468.50" font-size="12.2" text-anchor="start" fill="#222" fill="#111" stroke="#111" stroke-width="0.2" letter-spacing="0">Data(2i)</text>
<rect x="441.70" y="481.20" width="6.60" height="6.60" fill="#7f7f7f" stroke="#3f3f3f" stroke-width="0.8"/>
<text x="452.30" y="488.50" font-size="12.2" text-anchor="start" fill="#222" fill="#111" stroke="#111" stroke-width="0.2" letter-spacing="0">Data(i+(i-1))</text>
<text transform="translate(287.50,537.00) rotate(-90)" font-size="13" text-anchor="middle" fill="#111" stroke="#111" stroke-width="0.2" letter-spacing="0"><tspan letter-spacing="1.3" stroke-width="0.5">||</tspan><tspan font-style="italic">z</tspan>(<tspan font-style="italic">t</tspan>)<tspan letter-spacing="1.3" stroke-width="0.5">||</tspan><tspan font-size="8" dy="-5">2</tspan><tspan dy="5"> [W</tspan><tspan font-size="8" dy="-5">2</tspan><tspan dy="5">]</tspan></text>
<text x="437.00" y="656.00" font-size="12" text-anchor="middle" fill="#222" fill="#111" stroke="#111" stroke-width="0.2">(f)</text>
</svg>
</body></html>
